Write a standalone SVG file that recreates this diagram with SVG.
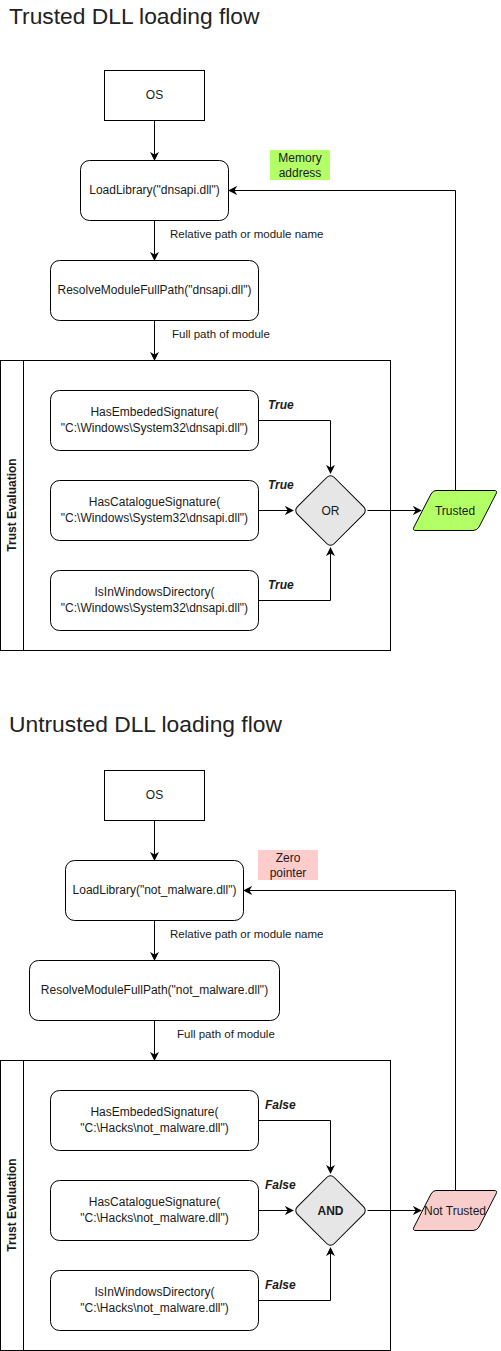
<svg xmlns="http://www.w3.org/2000/svg" width="501" height="1351" viewBox="0 0 501 1351">
<defs>
<marker id="arr" viewBox="0 0 10 10" refX="9" refY="5" markerWidth="9" markerHeight="9" markerUnits="userSpaceOnUse" orient="auto">
<path d="M0,0 L10,5 L0,10 L3,5 Z" fill="#000"/>
</marker>
<style>
text{font-family:"Liberation Sans",Arial,sans-serif;font-size:12px;fill:#1a1a1a}
.title{font-size:22.8px;fill:#222}
.c{text-anchor:middle}
.lbl{font-size:11.5px}
.bi{font-weight:bold;font-style:italic}
.b{font-weight:bold}
.box{fill:#fff;stroke:#000;stroke-width:1}
.cont{fill:none;stroke:#000;stroke-width:1}
.dia{fill:#e6e6e6;stroke:#000;stroke-width:1}
.edge{fill:none;stroke:#000;stroke-width:1;marker-end:url(#arr)}
</style>
</defs>
<rect width="501" height="1351" fill="#fff"/>

<!-- ================= Trusted ================= -->
<text class="title" x="9" y="24">Trusted DLL loading flow</text>

<g id="t-os"><rect class="box" x="104.5" y="70.5" width="100" height="50"/><text class="c" x="154.5" y="99">OS</text></g>
<g id="t-load"><rect class="box" x="80.5" y="160.5" width="148" height="60" rx="9"/><text class="c" x="154.5" y="194">LoadLibrary("dnsapi.dll")</text></g>
<g id="t-mem"><rect x="270" y="150" width="60" height="30" fill="#b3ff66"/><text class="c" x="300" y="162">Memory</text><text class="c" x="300" y="177">address</text></g>
<g id="t-resolve"><rect class="box" x="50.5" y="260.5" width="208" height="60" rx="9"/><text class="c" x="154.5" y="294">ResolveModuleFullPath("dnsapi.dll")</text></g>

<g id="t-container">
<rect class="cont" x="0.5" y="360.5" width="390" height="290"/>
<line x1="23.5" y1="360.5" x2="23.5" y2="650.5" stroke="#000"/>
<text class="c b" transform="translate(16,505) rotate(-90)">Trust Evaluation</text>
</g>
<g id="t-emb"><rect class="box" x="50.5" y="390.5" width="208" height="60" rx="9"/><text class="c" x="154.5" y="416">HasEmbededSignature(</text><text class="c" x="154.5" y="432">"C:\Windows\System32\dnsapi.dll")</text></g>
<g id="t-cat"><rect class="box" x="50.5" y="480.5" width="208" height="60" rx="9"/><text class="c" x="154.5" y="506">HasCatalogueSignature(</text><text class="c" x="154.5" y="522">"C:\Windows\System32\dnsapi.dll")</text></g>
<g id="t-win"><rect class="box" x="50.5" y="570.5" width="208" height="60" rx="9"/><text class="c" x="154.5" y="596">IsInWindowsDirectory(</text><text class="c" x="154.5" y="612">"C:\Windows\System32\dnsapi.dll")</text></g>
<g id="t-or"><rect class="dia" x="-26" y="-26" width="52" height="52" rx="5" transform="translate(330.5,510.5) rotate(45)"/><text class="c" x="330.5" y="515">OR</text></g>
<g id="t-trusted"><path d="M436,490.5 L494,490.5 Q498,490.5 496,494 L479,527 Q477,530.5 473,530.5 L416,530.5 Q412,530.5 414,527 L431,494 Q433,490.5 436,490.5 Z" fill="#b3ff66" stroke="#000"/><text class="c" x="455" y="515">Trusted</text></g>

<g id="t-edges">
<line class="edge" x1="154.5" y1="120.5" x2="154.5" y2="160"/>
<line class="edge" x1="154.5" y1="220.5" x2="154.5" y2="260"/>
<line class="edge" x1="154.5" y1="320.5" x2="154.5" y2="360"/>
<polyline class="edge" points="258.5,420.5 330.5,420.5 330.5,473"/>
<line class="edge" x1="258.5" y1="510.5" x2="293" y2="510.5"/>
<polyline class="edge" points="258.5,600.5 330.5,600.5 330.5,548"/>
<line class="edge" x1="367.5" y1="510.5" x2="421" y2="510.5"/>
<polyline class="edge" points="455.5,490.5 455.5,190.5 229,190.5"/>
<text class="lbl" x="170" y="238">Relative path or module name</text>
<text class="lbl" x="172" y="338">Full path of module</text>
<text class="bi" x="268" y="409">True</text>
<text class="bi" x="268" y="489">True</text>
<text class="bi" x="268" y="589">True</text>
</g>

<!-- ================= Untrusted ================= -->
<text class="title" x="9" y="732">Untrusted DLL loading flow</text>

<g id="u-os"><rect class="box" x="104.5" y="770.5" width="100" height="50"/><text class="c" x="154.5" y="799">OS</text></g>
<g id="u-load"><rect class="box" x="65.5" y="860.5" width="178" height="60" rx="9"/><text class="c" x="154.5" y="894">LoadLibrary("not_malware.dll")</text></g>
<g id="u-zero"><rect x="258" y="850" width="60" height="30" fill="#ffcccc"/><text class="c" x="288" y="862">Zero</text><text class="c" x="288" y="877">pointer</text></g>
<g id="u-resolve"><rect class="box" x="29.5" y="960.5" width="250" height="60" rx="9"/><text class="c" x="154.5" y="994">ResolveModuleFullPath("not_malware.dll")</text></g>

<g id="u-container">
<rect class="cont" x="0.5" y="1060.5" width="390" height="290"/>
<line x1="23.5" y1="1060.5" x2="23.5" y2="1350.5" stroke="#000"/>
<text class="c b" transform="translate(16,1205) rotate(-90)">Trust Evaluation</text>
</g>
<g id="u-emb"><rect class="box" x="50.5" y="1090.5" width="208" height="60" rx="9"/><text class="c" x="154.5" y="1116">HasEmbededSignature(</text><text class="c" x="154.5" y="1132">"C:\Hacks\not_malware.dll")</text></g>
<g id="u-cat"><rect class="box" x="50.5" y="1180.5" width="208" height="60" rx="9"/><text class="c" x="154.5" y="1206">HasCatalogueSignature(</text><text class="c" x="154.5" y="1222">"C:\Hacks\not_malware.dll")</text></g>
<g id="u-win"><rect class="box" x="50.5" y="1270.5" width="208" height="60" rx="9"/><text class="c" x="154.5" y="1296">IsInWindowsDirectory(</text><text class="c" x="154.5" y="1312">"C:\Hacks\not_malware.dll")</text></g>
<g id="u-and"><rect class="dia" x="-26" y="-26" width="52" height="52" rx="5" transform="translate(330.5,1210.5) rotate(45)"/><text class="c b" x="330.5" y="1215">AND</text></g>
<g id="u-nottrusted"><path d="M436,1190.5 L494,1190.5 Q498,1190.5 496,1194 L479,1227 Q477,1230.5 473,1230.5 L416,1230.5 Q412,1230.5 414,1227 L431,1194 Q433,1190.5 436,1190.5 Z" fill="#f8cecc" stroke="#000"/><text class="c" x="455" y="1215">Not Trusted</text></g>

<g id="u-edges">
<line class="edge" x1="154.5" y1="820.5" x2="154.5" y2="860"/>
<line class="edge" x1="154.5" y1="920.5" x2="154.5" y2="960"/>
<line class="edge" x1="154.5" y1="1020.5" x2="154.5" y2="1060"/>
<polyline class="edge" points="258.5,1120.5 330.5,1120.5 330.5,1173"/>
<line class="edge" x1="258.5" y1="1210.5" x2="293" y2="1210.5"/>
<polyline class="edge" points="258.5,1300.5 330.5,1300.5 330.5,1248"/>
<line class="edge" x1="367.5" y1="1210.5" x2="421" y2="1210.5"/>
<polyline class="edge" points="455.5,1190.5 455.5,890.5 244,890.5"/>
<text class="lbl" x="170" y="938">Relative path or module name</text>
<text class="lbl" x="177" y="1038">Full path of module</text>
<text class="bi" x="265" y="1109">False</text>
<text class="bi" x="265" y="1189">False</text>
<text class="bi" x="265" y="1289">False</text>
</g>
</svg>
